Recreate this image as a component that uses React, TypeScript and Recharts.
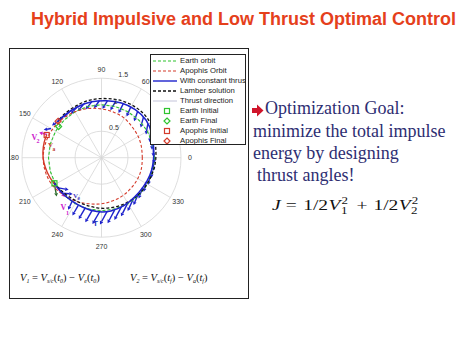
import React from "react";
import {
  RadarChart,
  PolarGrid,
  PolarAngleAxis,
  ScatterChart,
  Scatter,
  XAxis,
  YAxis,
  ReferenceLine,
} from "recharts";

// angle labels (listed in the order the angle axis places them, starting at 330)
const angleTicks = ["330", "0", "30", "60", "90", "120", "150", "180", "210", "240", "270", "300"];
const gridAngles = [0, 30, 60, 90, 120, 150, 180, 210, 240, 270, 300, 330];
const ringValues = [0.5, 1, 1.5];

// Earth orbit (theta in degrees, r in AU)
const earthTheta = [0, 15, 30, 45, 60, 75, 90, 105, 120, 135, 150, 165, 180, 195, 210, 225, 240, 255, 270, 285, 300, 315, 330, 345, 360];
const earthR = [1.0, 1.0, 1.0, 1.0, 1.0, 1.0, 1.0, 1.0, 1.0, 1.0, 1.0, 1.0, 1.0, 1.0, 1.0, 1.0, 1.0, 1.0, 1.0, 1.0, 1.0, 1.0, 1.0, 1.0, 1.0];

// Apophis orbit
const apophisTheta = [0, 15, 30, 45, 60, 75, 90, 105, 120, 135, 150, 165, 180, 195, 210, 225, 240, 255, 270, 285, 300, 315, 330, 345, 360];
const apophisR = [0.77, 0.78, 0.8, 0.82, 0.86, 0.89, 0.92, 0.96, 1.0, 1.04, 1.07, 1.09, 1.1, 1.09, 1.06, 1.0, 0.95, 0.9, 0.87, 0.84, 0.82, 0.8, 0.79, 0.78, 0.77];

// Apophis arc (solid)
const apophisArcTheta = [157, 165, 175, 185, 195, 205, 212];
const apophisArcR = [1.12, 1.12, 1.11, 1.09, 1.06, 1.03, 1.0];

// trajectory with constant thrust
const thrustTheta = [208, 220, 235, 250, 265, 280, 295, 310, 325, 340, 355, 370, 385, 400, 415, 430, 445, 460, 475, 490, 500];
const thrustR = [1.01, 1.0, 0.99, 1.0, 1.02, 1.02, 1.0, 0.97, 0.96, 0.97, 0.98, 1.0, 1.05, 1.1, 1.11, 1.1, 1.08, 1.07, 1.06, 1.06, 1.07];

// Lambert solution
const lambertTheta = [208, 220, 235, 250, 265, 280, 295, 310, 325, 340, 355, 370, 385, 400, 415, 430, 445, 460, 475, 490, 500];
const lambertR = [1.01, 0.98, 0.95, 0.94, 0.95, 0.96, 0.97, 0.98, 0.99, 1.0, 1.02, 1.04, 1.09, 1.14, 1.15, 1.14, 1.12, 1.11, 1.09, 1.08, 1.07];

// thrust direction arrows: position on trajectory, direction (deg), length
const arrowTheta = [140, 132, 124, 116, 108, 100, 92, 84, 76, 68, 60, 52, 44, 36, 28, 20, 12, 4, 356, 348, 340, 332, 324, 316, 308, 300, 292, 284, 276, 268, 260, 252, 244, 236, 222, 214, 150];
const arrowR = [1.07, 1.06, 1.06, 1.06, 1.07, 1.07, 1.08, 1.08, 1.09, 1.1, 1.11, 1.11, 1.1, 1.08, 1.05, 1.02, 1.0, 0.99, 0.98, 0.97, 0.97, 0.96, 0.96, 0.97, 0.98, 0.99, 1.0, 1.02, 1.02, 1.02, 1.01, 1.0, 1.0, 0.99, 1.0, 1.01, 1.1];
const arrowDir = [215, 220, 225, 228, 230, 232, 235, 238, 240, 243, 246, 250, 255, 260, 265, 268, 270, 272, 272, 268, 262, 255, 250, 247, 245, 243, 242, 242, 241, 240, 240, 240, 240, 245, 355, 350, 190];
const arrowLen = [0.14, 0.16, 0.17, 0.17, 0.18, 0.18, 0.18, 0.18, 0.19, 0.2, 0.2, 0.2, 0.2, 0.2, 0.2, 0.2, 0.19, 0.18, 0.18, 0.18, 0.18, 0.2, 0.22, 0.24, 0.26, 0.28, 0.28, 0.28, 0.28, 0.27, 0.26, 0.24, 0.22, 0.18, 0.2, 0.22, 0.14];

// velocity arrows at departure / arrival
const velTheta = [206, 210, 157];
const velR = [1.0, 1.02, 1.12];
const velDir = [280, 310, 165];
const velLen = [0.3, 0.3, 0.15];
const velColor = ["#2d6b2d", "#cc22cc", "#cc22cc"];

// boundary markers
const earthInitial = { theta: 208.5, r: 1.01 };
const earthFinal = { theta: 144, r: 1.0 };
const apophisInitial = { theta: 157.5, r: 1.12 };
const apophisFinal = { theta: 140, r: 1.07 };

const legendNames = [
  "Earth orbit",
  "Apophis Orbit",
  "With constant thrust",
  "Lamber solution",
  "Thrust direction",
  "Earth Initial",
  "Earth Final",
  "Apophis Initial",
  "Apophis Final",
];

const GREEN = "#2fc42f";
const RED = "#d43a2a";
const BLUE = "#1e22cc";
const BLACK = "#111";

const rad = (d: number) => (d * Math.PI) / 180;
const toXY = (theta: number[], r: number[]) =>
  theta.map((t, i) => ({ x: r[i] * Math.cos(rad(t)), y: r[i] * Math.sin(rad(t)) }));
const pt = (p: { theta: number; r: number }) => [{ x: p.r * Math.cos(rad(p.theta)), y: p.r * Math.sin(rad(p.theta)) }];

const arrows = arrowTheta.map((t, i) => {
  const x1 = arrowR[i] * Math.cos(rad(t));
  const y1 = arrowR[i] * Math.sin(rad(t));
  return { x1, y1, x2: x1 + arrowLen[i] * Math.cos(rad(arrowDir[i])), y2: y1 + arrowLen[i] * Math.sin(rad(arrowDir[i])) };
});
const velArrows = velTheta.map((t, i) => {
  const x1 = velR[i] * Math.cos(rad(t));
  const y1 = velR[i] * Math.sin(rad(t));
  return { x1, y1, x2: x1 + velLen[i] * Math.cos(rad(velDir[i])), y2: y1 + velLen[i] * Math.sin(rad(velDir[i])), color: velColor[i] };
});

const noDot = () => <g />;

const ArrowShape = (props: any) => {
  const { x1, y1, x2, y2, stroke } = props;
  const a = Math.atan2(y2 - y1, x2 - x1);
  const h = 3.4;
  const w = 1.9;
  const bx = x2 - h * Math.cos(a);
  const by = y2 - h * Math.sin(a);
  const pts = `${x2},${y2} ${bx + w * Math.sin(a)},${by - w * Math.cos(a)} ${bx - w * Math.sin(a)},${by + w * Math.cos(a)}`;
  return (
    <g>
      <line x1={x1} y1={y1} x2={bx} y2={by} stroke={stroke} strokeWidth={1.4} />
      <polygon points={pts} fill={stroke} />
    </g>
  );
};

const square = (color: string) => (p: any) => (
  <rect x={p.cx - 2.5} y={p.cy - 2.5} width={5} height={5} fill="none" stroke={color} strokeWidth={1.2} />
);
const diamond = (color: string) => (p: any) => (
  <polygon
    points={`${p.cx},${p.cy - 3} ${p.cx + 3},${p.cy} ${p.cx},${p.cy + 3} ${p.cx - 3},${p.cy}`}
    fill="none"
    stroke={color}
    strokeWidth={1.2}
  />
);

const AngleTick = (props: any) => (
  <text x={props.x} y={props.y} textAnchor="middle" dominantBaseline="central" fontSize={7} fill="#333" fontFamily="Liberation Sans, Arial">
    {props.payload.value}
  </text>
);

// chart geometry (pixels)
const CW = 238;
const CH = 249;
const OX = 10; // chart left on page
const OY = 49; // chart top on page
const CX = 91.5;
const CY = 108.7;
const OUTER = 79.5; // radius of the 1.5 ring
const UNIT = OUTER / 1.5;
const DOM = 1.7;

const legendSample = (i: number) => {
  switch (i) {
    case 0:
      return <line x1={0} y1={5} x2={24} y2={5} stroke={GREEN} strokeDasharray="3 2" strokeWidth={1.2} />;
    case 1:
      return <line x1={0} y1={5} x2={24} y2={5} stroke={RED} strokeDasharray="3 2" strokeWidth={1.2} />;
    case 2:
      return <line x1={0} y1={5} x2={24} y2={5} stroke={BLUE} strokeWidth={1.4} />;
    case 3:
      return <line x1={0} y1={5} x2={24} y2={5} stroke={BLACK} strokeDasharray="3 2" strokeWidth={1.4} />;
    case 4:
      return <line x1={0} y1={5} x2={24} y2={5} stroke="#d4d4e4" strokeWidth={1.4} />;
    case 5:
      return <rect x={11.5} y={2.5} width={5} height={5} fill="none" stroke={GREEN} strokeWidth={1.2} />;
    case 6:
      return <polygon points="14,2 17,5 14,8 11,5" fill="none" stroke={GREEN} strokeWidth={1.2} />;
    case 7:
      return <rect x={11.5} y={2.5} width={5} height={5} fill="none" stroke={RED} strokeWidth={1.2} />;
    default:
      return <polygon points="14,2 17,5 14,8 11,5" fill="none" stroke={RED} strokeWidth={1.2} />;
  }
};

const serif = "Liberation Serif, Times New Roman, serif";
const NAVY = "#2e2e72";

export default function App() {
  const angleData = angleTicks.map((a) => ({ a }));
  const left = CX - DOM * UNIT;
  const top = CY - DOM * UNIT;
  const size = 2 * DOM * UNIT;
  return (
    <div style={{ position: "absolute", left: 0, top: 0, width: 474, height: 355, background: "#fff", overflow: "hidden" }}>
      <div style={{ position: "absolute", left: OX, top: OY }}>
        <RadarChart width={CW} height={CH} data={angleData} cx={CX} cy={CY} outerRadius={OUTER} startAngle={0} endAngle={360}>
          <PolarGrid gridType="circle" polarAngles={gridAngles} polarRadius={ringValues.map((v) => v * UNIT)} stroke="#d6d6d6" strokeWidth={0.8} />
          <PolarAngleAxis dataKey="a" tick={AngleTick} tickLine={false} axisLine={false} tickSize={9} />
        </RadarChart>
      </div>
      <div style={{ position: "absolute", left: OX, top: OY }}>
        <ScatterChart width={CW} height={CH} margin={{ left, top, right: CW - left - size, bottom: CH - top - size }}>
          <XAxis type="number" dataKey="x" domain={[-DOM, DOM]} hide allowDataOverflow />
          <YAxis type="number" dataKey="y" domain={[-DOM, DOM]} hide allowDataOverflow />
          <Scatter data={toXY(earthTheta, earthR)} line={{ stroke: GREEN, strokeWidth: 1.1, strokeDasharray: "3 2" }} shape={noDot} isAnimationActive={false} />
          <Scatter data={toXY(apophisTheta, apophisR)} line={{ stroke: RED, strokeWidth: 1.1, strokeDasharray: "3 2" }} lineJointType="natural" shape={noDot} isAnimationActive={false} />
          <Scatter data={toXY(apophisArcTheta, apophisArcR)} line={{ stroke: RED, strokeWidth: 1.4 }} lineJointType="natural" shape={noDot} isAnimationActive={false} />
          <Scatter data={toXY(lambertTheta, lambertR)} line={{ stroke: BLACK, strokeWidth: 1.3, strokeDasharray: "3 2" }} lineJointType="natural" shape={noDot} isAnimationActive={false} />
          <Scatter data={toXY(thrustTheta, thrustR)} line={{ stroke: BLUE, strokeWidth: 1.5 }} lineJointType="natural" shape={noDot} isAnimationActive={false} />
          {arrows.map((a, i) => (
            <ReferenceLine key={`a${i}`} segment={[{ x: a.x1, y: a.y1 }, { x: a.x2, y: a.y2 }]} stroke={BLUE} shape={ArrowShape} ifOverflow="visible" />
          ))}
          {velArrows.map((a, i) => (
            <ReferenceLine key={`v${i}`} segment={[{ x: a.x1, y: a.y1 }, { x: a.x2, y: a.y2 }]} stroke={a.color} shape={ArrowShape} ifOverflow="visible" />
          ))}
          <Scatter data={pt(earthInitial)} shape={square(GREEN)} isAnimationActive={false} />
          <Scatter data={pt(earthFinal)} shape={diamond(GREEN)} isAnimationActive={false} />
          <Scatter data={pt(apophisInitial)} shape={square(RED)} isAnimationActive={false} />
          <Scatter data={pt(apophisFinal)} shape={diamond(RED)} isAnimationActive={false} />
        </ScatterChart>
      </div>

      {/* figure frame */}
      <div style={{ position: "absolute", left: 9, top: 48, width: 240, height: 251, border: "1.5px solid #222", boxSizing: "border-box" }} />

      {/* legend */}
      <div style={{ position: "absolute", left: 150, top: 54, width: 96, height: 91, border: "1px solid #222", boxSizing: "border-box", background: "#fff", overflow: "hidden" }}>
        {legendNames.map((name, i) => (
          <div key={name} style={{ position: "absolute", left: 2, top: 1 + 10 * i, height: 10, width: 120 }}>
            <svg width={24} height={10} style={{ position: "absolute", left: 0, top: 0 }}>
              {legendSample(i)}
            </svg>
            <span style={{ position: "absolute", left: 27, top: 0, fontSize: 7.7, lineHeight: "10px", fontFamily: "Liberation Sans, Arial", color: "#222", whiteSpace: "nowrap" }}>
              {name}
            </span>
          </div>
        ))}
      </div>

      <svg width={474} height={355} style={{ position: "absolute", left: 0, top: 0 }}>
        <text x={243.5} y={24.8} textAnchor="middle" fontSize={18} fontWeight="bold" fill="#e5401b" fontFamily="Liberation Sans, Arial">
          Hybrid Impulsive and Low Thrust Optimal Control
        </text>

        {/* radius ring labels, drawn above the curves */}
        {ringValues.map((v) => (
          <text
            key={v}
            x={OX + CX + v * UNIT * Math.cos(rad(80)) + 3}
            y={OY + CY - v * UNIT * Math.sin(rad(80)) - 2}
            fontSize={7}
            fill="#333"
            fontFamily="Liberation Sans, Arial"
          >
            {v}
          </text>
        ))}

        {/* annotations inside the polar plot */}
        <g fontFamily={serif} fontWeight="bold">
          <text x={31.5} y={139.5} fontSize={8} fill="#cc22cc">V</text>
          <text x={36.5} y={142.5} fontSize={6} fill="#cc22cc">2</text>
          <text x={48} y={146.5} fontSize={7} fill="#c0392b">V</text>
          <text x={52.5} y={150.5} fontSize={5.5} fill="#c0392b">a</text>
          <text x={73} y={197.5} fontSize={7} fill="#4a3cc0">V</text>
          <text x={77.5} y={199.5} fontSize={5.5} fill="#4a3cc0">e</text>
          <text x={60.5} y={209.5} fontSize={8} fill="#cc22cc">V</text>
          <text x={66} y={215} fontSize={6} fill="#cc22cc">1</text>
          <text x={93} y={226} fontSize={8} fill="#2030c0" fontFamily="Liberation Sans, Arial">T</text>
        </g>

        {/* velocity definitions */}
        <g fontFamily={serif} fontStyle="italic" fontSize={10.5} fill="#111">
          <text x={20} y={281}>
            V<tspan dy={2} fontSize={6}>1</tspan>
            <tspan dy={-2} fontStyle="normal"> = </tspan>V<tspan dy={2} fontSize={6}>s/c</tspan>
            <tspan dy={-2} fontStyle="normal">(</tspan>t<tspan dy={2} fontSize={6}>0</tspan>
            <tspan dy={-2} fontStyle="normal">) − </tspan>V<tspan dy={2} fontSize={6}>e</tspan>
            <tspan dy={-2} fontStyle="normal">(</tspan>t<tspan dy={2} fontSize={6}>0</tspan>
            <tspan dy={-2} fontStyle="normal">)</tspan>
          </text>
          <text x={130} y={281}>
            V<tspan dy={2} fontSize={6}>2</tspan>
            <tspan dy={-2} fontStyle="normal"> = </tspan>V<tspan dy={2} fontSize={6}>s/c</tspan>
            <tspan dy={-2} fontStyle="normal">(</tspan>t<tspan dy={2} fontSize={6}>f</tspan>
            <tspan dy={-2} fontStyle="normal">) − </tspan>V<tspan dy={2} fontSize={6}>a</tspan>
            <tspan dy={-2} fontStyle="normal">(</tspan>t<tspan dy={2} fontSize={6}>f</tspan>
            <tspan dy={-2} fontStyle="normal">)</tspan>
          </text>
        </g>

        {/* goal text */}
        <polygon points="252,108 257,108 257,104.5 263.5,110.5 257,116.5 257,113 252,113" fill="#d0142a" />
        <g fontFamily={serif} fontSize={18} fill={NAVY}>
          <text x={265} y={114}>Optimization Goal:</text>
          <text x={253} y={136.5}>minimize the total impulse</text>
          <text x={253} y={158.5}>energy by designing</text>
          <text x={257} y={180.5}>thrust angles!</text>
        </g>

        <g transform="translate(272,210) scale(1.3,1)" fontFamily={serif} fontSize={15} fill="#111">
          <text x={0} y={0} fontStyle="italic">J</text>
          <text x={10.5} y={0}>=</text>
          <text x={24} y={0}>1/2</text>
          <text x={43.5} y={0} fontStyle="italic">V</text>
          <text x={53.5} y={-6} fontSize={10}>2</text>
          <text x={53} y={3.5} fontSize={10}>1</text>
          <text x={65} y={0}>+</text>
          <text x={78} y={0}>1/2</text>
          <text x={97.5} y={0} fontStyle="italic">V</text>
          <text x={107.5} y={-6} fontSize={10}>2</text>
          <text x={107} y={3.5} fontSize={10}>2</text>
        </g>
      </svg>
    </div>
  );
}
